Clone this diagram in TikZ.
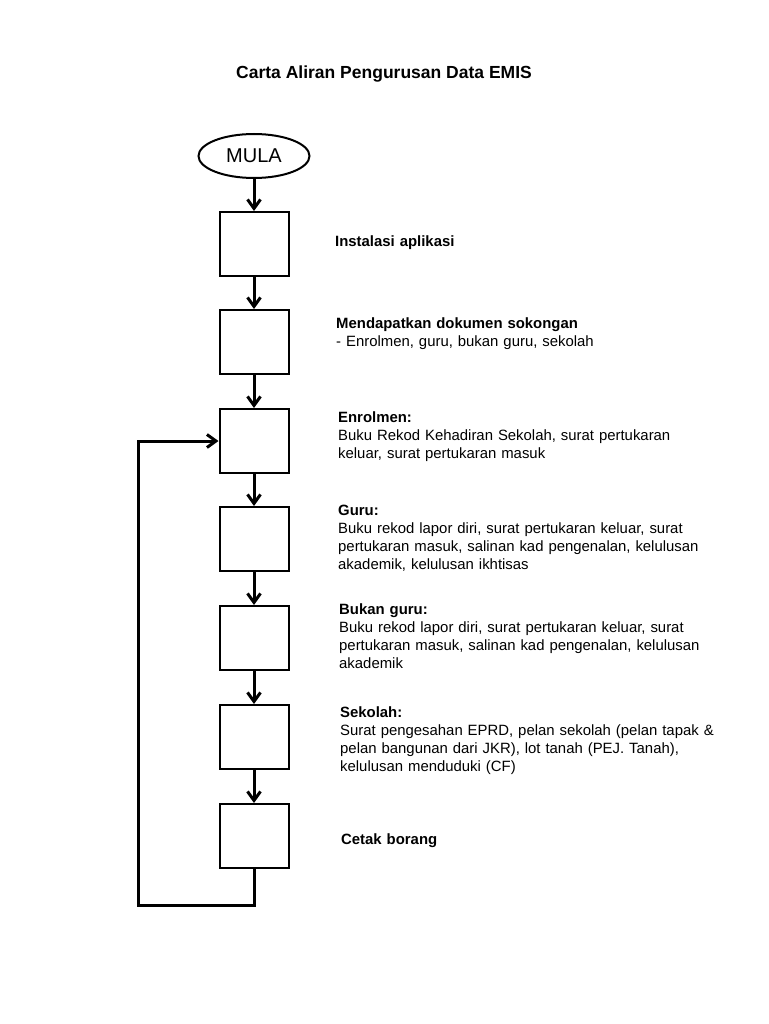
\documentclass[tikz,border=0pt]{standalone}
\usepackage{fontspec}
\setmainfont{Liberation Sans}
\usetikzlibrary{arrows.meta,shapes.geometric}
\begin{document}
\begin{tikzpicture}[x=1pt, y=-1pt,
		kotak/.style={draw, line width=2pt, minimum width=69pt, minimum height=64pt, inner sep=0pt},
		panah/.style={line width=3pt, -{Straight Barb[length=9pt, width=13pt]}},
		ket/.style={anchor=base west, inner sep=0pt, text width=420pt, align=left, font=\fontsize{14.9}{18.3}\selectfont}]
		\useasboundingbox (0,0) rectangle (768,1024);
		\node[font=\bfseries\fontsize{17.5}{20}\selectfont] (tajuk) at (384,74) {Carta Aliran Pengurusan Data EMIS};
		\node[draw, ellipse, line width=2pt, minimum width=111pt, minimum height=44pt, inner sep=0pt, font=\fontsize{20}{24}\selectfont] (mula) at (254,156) {MULA};
		% kotak proses
		\foreach \i/\y in {1/244, 2/342, 3/441, 4/539, 5/638, 6/737, 7/836} {
			\node[kotak] (k\i) at (254,\y) {};
		}
		\draw[panah] (mula) -- (k1);
		\foreach \s/\t in {k1/k2, k2/k3, k3/k4, k4/k5, k5/k6, k6/k7} {
			\draw[panah] (\s) -- (\t);
		}
		% gelung balik
		\coordinate (balik) at (138,905);
		\draw[panah] (k7.south) |- (balik) |- (k3.west);
		% keterangan
		\node[ket] (t1) at (335,246) {\textbf{Instalasi aplikasi}};
		\node[ket] (t2) at (336,328) {\textbf{Mendapatkan dokumen sokongan}\\- Enrolmen, guru, bukan guru, sekolah};
		\node[ket] (t3) at (338,422) {\textbf{Enrolmen:}\\Buku Rekod Kehadiran Sekolah, surat pertukaran\\keluar, surat pertukaran masuk};
		\node[ket] (t4) at (338,515) {\textbf{Guru:}\\Buku rekod lapor diri, surat pertukaran keluar, surat\\pertukaran masuk, salinan kad pengenalan, kelulusan\\akademik, kelulusan ikhtisas};
		\node[ket] (t5) at (339,614) {\textbf{Bukan guru:}\\Buku rekod lapor diri, surat pertukaran keluar, surat\\pertukaran masuk, salinan kad pengenalan, kelulusan\\akademik};
		\node[ket] (t6) at (340,717) {\textbf{Sekolah:}\\Surat pengesahan EPRD, pelan sekolah (pelan tapak \&\\pelan bangunan dari JKR), lot tanah (PEJ. Tanah),\\kelulusan menduduki (CF)};
		\node[ket] (t7) at (341,844) {\textbf{Cetak borang}};
\end{tikzpicture}
\end{document}
